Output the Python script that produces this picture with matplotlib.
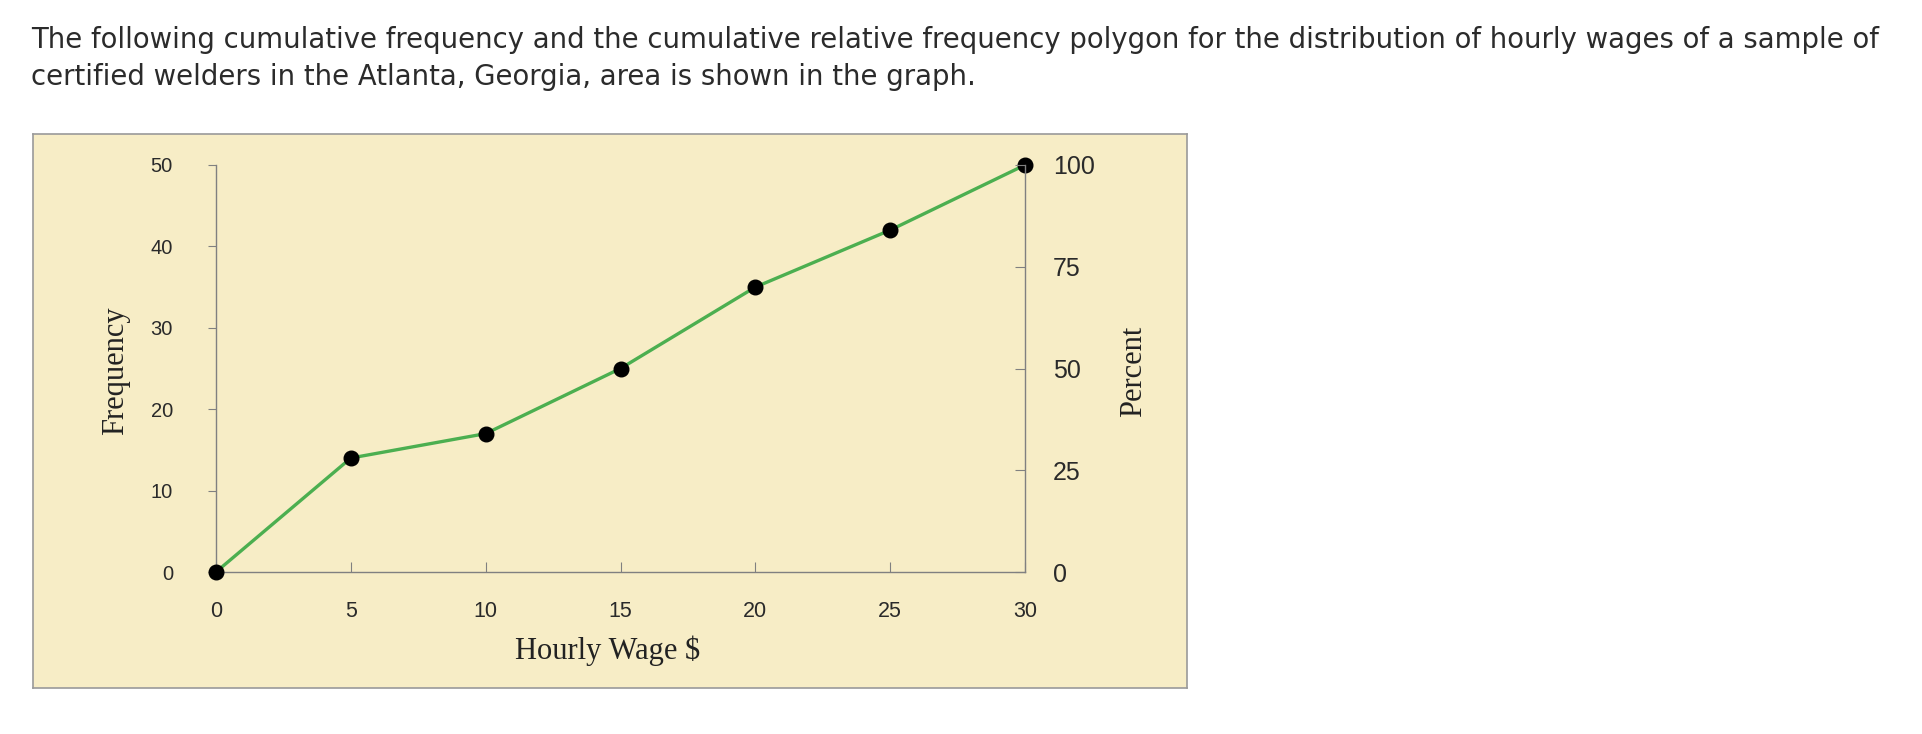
import matplotlib
matplotlib.use('Agg')
import matplotlib.pyplot as plt

plt.rcParams['font.family'] = 'Liberation Sans'

# data
wage = [0, 5, 10, 15, 20, 25, 30]
cum_freq = [0, 14, 17, 25, 35, 42, 50]
freq_ticks = [0, 10, 20, 30, 40, 50]
pct_ticks = [0, 25, 50, 75, 100]
wage_ticks = [0, 5, 10, 15, 20, 25, 30]

W, H = 1922, 734
fig = plt.figure(figsize=(W / 100, H / 100), dpi=100)
fig.patch.set_facecolor('white')

def fx(px):
    return px / W

def fy(py):
    return 1 - py / H

# heading text above the chart
title = ("The following cumulative frequency and the cumulative relative frequency polygon for the distribution of hourly wages of a sample of\n"
         "certified welders in the Atlanta, Georgia, area is shown in the graph.")
fig.text(fx(31), fy(26), title, ha='left', va='top', fontsize=19.8,
         family='DejaVu Sans', color='#2b2b2b', linespacing=1.42)

# pale yellow panel behind the chart
bg = fig.add_axes([fx(33), fy(688), fx(1187 - 33), (688 - 134) / H])
bg.set_facecolor('#f7edc6')
bg.set_xticks([])
bg.set_yticks([])
for s in bg.spines.values():
    s.set_color('#9a9a9a')
    s.set_linewidth(1.2)

ax = fig.add_axes([fx(216), fy(572), fx(1025 - 216), (572 - 165) / H])
ax.set_facecolor('none')
ax.plot(wage, cum_freq, color='#4caf50', linewidth=2.4, zorder=3, clip_on=False)
ax.plot(wage, cum_freq, 'o', color='black', markersize=10.5, zorder=4, clip_on=False)

ax.set_xlim(0, 30)
ax.set_ylim(0, 50)
ax.set_xticks(wage_ticks)
ax.set_yticks(freq_ticks)
ax.spines['top'].set_visible(False)
ax.spines['right'].set_visible(False)
for s in ['left', 'bottom']:
    ax.spines[s].set_color('#808080')
    ax.spines[s].set_linewidth(1.0)
ax.tick_params(axis='y', direction='out', length=6, color='#808080',
               pad=25, labelsize=14.5, labelcolor='#2a2a2a')
ax.tick_params(axis='x', direction='in', length=7, color='#808080',
               pad=21, labelsize=15.5, labelcolor='#2a2a2a')

ax2 = ax.twinx()
ax2.set_ylim(0, 100)
ax2.set_yticks(pct_ticks)
for s in ['top', 'left', 'bottom']:
    ax2.spines[s].set_visible(False)
ax2.spines['right'].set_color('#808080')
ax2.spines['right'].set_linewidth(1.0)
ax2.tick_params(axis='y', direction='in', length=7, color='#808080',
                pad=20, labelsize=18, labelcolor='#2a2a2a')

serif = 'Liberation Serif'
fig.text(fx(116), fy(371), 'Frequency', rotation=90, ha='center', va='center',
         fontsize=22, family=serif, color='#222222')
fig.text(fx(1134), fy(371), 'Percent', rotation=90, ha='center', va='center',
         fontsize=22, family=serif, color='#222222')
fig.text(fx(608), fy(651), 'Hourly Wage $', ha='center', va='center',
         fontsize=22, family=serif, color='#222222')

fig.savefig('out.png', dpi=100)
